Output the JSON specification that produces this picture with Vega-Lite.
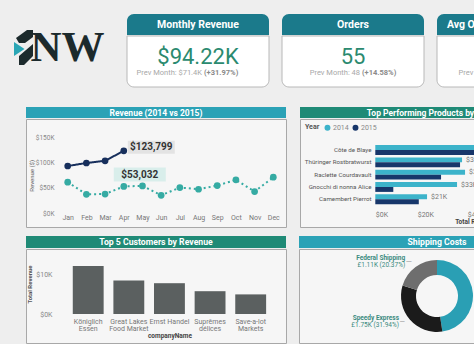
{
  "$schema": "https://vega.github.io/schema/vega-lite/v6.json",
  "usermeta": {"embedOptions": {"actions": false}},
  "background": "#eeeeee",
  "padding": {"left": 0, "top": 14, "right": 0, "bottom": 0},
  "config": {"font": "Roboto", "view": {"stroke": null}},
  "datasets": {
    "cards": [
      {"card": "Monthly Revenue", "value": "$94.22K", "prev": "Prev Month: $71.4K", "change": "(+31.97%)"},
      {"card": "Orders", "value": "55", "prev": "Prev Month: 48", "change": "(+14.58%)"},
      {"card": "Avg Order Value", "value": "$1.71K", "prev": "Prev Month: $1.49K", "change": "(+15.03%)"}
    ],
    "revenue": [
      {"month": "Jan", "year": "2014", "revenue": 61400},
      {"month": "Feb", "year": "2014", "revenue": 37300},
      {"month": "Mar", "year": "2014", "revenue": 37800},
      {"month": "Apr", "year": "2014", "revenue": 53032},
      {"month": "May", "year": "2014", "revenue": 54000},
      {"month": "Jun", "year": "2014", "revenue": 35300},
      {"month": "Jul", "year": "2014", "revenue": 50700},
      {"month": "Aug", "year": "2014", "revenue": 47300},
      {"month": "Sep", "year": "2014", "revenue": 54700},
      {"month": "Oct", "year": "2014", "revenue": 66000},
      {"month": "Nov", "year": "2014", "revenue": 42700},
      {"month": "Dec", "year": "2014", "revenue": 71300},
      {"month": "Jan", "year": "2015", "revenue": 93600},
      {"month": "Feb", "year": "2015", "revenue": 99600},
      {"month": "Mar", "year": "2015", "revenue": 104000},
      {"month": "Apr", "year": "2015", "revenue": 123799}
    ],
    "products": [
      {"product": "Côte de Blaye", "year": "2014", "revenue": 49000},
      {"product": "Côte de Blaye", "year": "2015", "revenue": 62000},
      {"product": "Thüringer Rostbratwurst", "year": "2014", "revenue": 34700},
      {"product": "Thüringer Rostbratwurst", "year": "2015", "revenue": 33900},
      {"product": "Raclette Courdavault", "year": "2014", "revenue": 35900},
      {"product": "Raclette Courdavault", "year": "2015", "revenue": 26300},
      {"product": "Gnocchi di nonna Alice", "year": "2014", "revenue": 32700},
      {"product": "Gnocchi di nonna Alice", "year": "2015", "revenue": 7200},
      {"product": "Camembert Pierrot", "year": "2014", "revenue": 20700},
      {"product": "Camembert Pierrot", "year": "2015", "revenue": 17400}
    ],
    "customers": [
      {"company": "Königlich Essen", "revenue": 12000},
      {"company": "Great Lakes Food Market", "revenue": 8400},
      {"company": "Ernst Handel", "revenue": 7700},
      {"company": "Suprêmes délices", "revenue": 5700},
      {"company": "Save-a-lot Markets", "revenue": 4900}
    ],
    "shipping": [
      {"method": "United Package", "ord": 1, "value": 2600, "pct": 47.69},
      {"method": "Speedy Express", "ord": 2, "value": 1750, "pct": 31.94},
      {"method": "Federal Shipping", "ord": 3, "value": 1110, "pct": 20.37}
    ]
  },
  "spacing": 19,
  "resolve": {"scale": {"color": "independent", "fill": "independent", "shape": "independent", "strokeDash": "independent"}, "legend": {"color": "independent", "fill": "independent", "shape": "independent", "strokeDash": "independent"}},
  "vconcat": [
    {
      "spacing": 11,
      "hconcat": [
        {
          "width": 115, "height": 72,
          "data": {"values": [{"name": "NW"}]},
          "layer": [
            {"mark": {"type": "point", "shape": "M-41.5,-12L-30.5,-20L-24.5,-20L-24.5,-13L-32.5,-7L-38.5,-7Z M-31.5,0L-24.5,-6L-24.5,6L-33.5,15L-38.5,15L-38.5,6Z", "size": 4, "filled": true, "color": "#1c2a2c", "opacity": 1, "strokeWidth": 0}, "encoding": {}},
            {"mark": {"type": "point", "shape": "M-43.5,-8L-33,-1L-43.5,6Z", "size": 4, "filled": true, "color": "#2aa6b5", "opacity": 1, "strokeWidth": 0}, "encoding": {}},
            {"mark": {"type": "text", "font": "Liberation Serif", "fontWeight": "bold", "fontSize": 43, "color": "#1c2a2c", "dx": 10, "dy": -2}, "encoding": {"text": {"field": "name"}}}
          ]
        },
        {
          "spacing": 0,
          "data": {"name": "cards"},
          "transform": [{"filter": "datum.card == 'Monthly Revenue'"}],
          "vconcat": [
            {"width": 142, "height": 21, "layer": [
              {"mark": {"type": "rect", "fill": "#1b7a8b", "cornerRadiusTopLeft": 7, "cornerRadiusTopRight": 7}, "encoding": {}},
              {"mark": {"type": "text", "color": "white", "fontWeight": "bold", "fontSize": 10.5}, "encoding": {"text": {"field": "card"}}}
            ]},
            {"width": 142, "height": 51, "layer": [
              {"mark": {"type": "rect", "fill": "white", "stroke": "#b8b8b8", "cornerRadiusBottomLeft": 7, "cornerRadiusBottomRight": 7}, "encoding": {}},
              {"mark": {"type": "text", "color": "#2b8a6f", "fontSize": 22, "dy": -4.5}, "encoding": {"text": {"field": "value"}}},
              {"mark": {"type": "text", "color": "#a8a8a8", "fontSize": 7.5, "align": "right", "dx": 4, "dy": 11.5}, "encoding": {"text": {"field": "prev"}}},
              {"mark": {"type": "text", "color": "#8a8a8a", "fontSize": 7.5, "fontWeight": "bold", "align": "left", "dx": 6, "dy": 11.5}, "encoding": {"text": {"field": "change"}}}
            ]}
          ]
        },
        {
          "spacing": 0,
          "data": {"name": "cards"},
          "transform": [{"filter": "datum.card == 'Orders'"}],
          "vconcat": [
            {"width": 142, "height": 21, "layer": [
              {"mark": {"type": "rect", "fill": "#1b7a8b", "cornerRadiusTopLeft": 7, "cornerRadiusTopRight": 7}, "encoding": {}},
              {"mark": {"type": "text", "color": "white", "fontWeight": "bold", "fontSize": 10.5}, "encoding": {"text": {"field": "card"}}}
            ]},
            {"width": 142, "height": 51, "layer": [
              {"mark": {"type": "rect", "fill": "white", "stroke": "#b8b8b8", "cornerRadiusBottomLeft": 7, "cornerRadiusBottomRight": 7}, "encoding": {}},
              {"mark": {"type": "text", "color": "#2b8a6f", "fontSize": 22, "dy": -4.5}, "encoding": {"text": {"field": "value"}}},
              {"mark": {"type": "text", "color": "#a8a8a8", "fontSize": 7.5, "align": "right", "dx": 7, "dy": 11.5}, "encoding": {"text": {"field": "prev"}}},
              {"mark": {"type": "text", "color": "#8a8a8a", "fontSize": 7.5, "fontWeight": "bold", "align": "left", "dx": 9, "dy": 11.5}, "encoding": {"text": {"field": "change"}}}
            ]}
          ]
        },
        {
          "spacing": 0,
          "data": {"name": "cards"},
          "transform": [{"filter": "datum.card == 'Avg Order Value'"}],
          "vconcat": [
            {"width": 142, "height": 21, "layer": [
              {"mark": {"type": "rect", "fill": "#1b7a8b", "cornerRadiusTopLeft": 7, "cornerRadiusTopRight": 7}, "encoding": {}},
              {"mark": {"type": "text", "color": "white", "fontWeight": "bold", "fontSize": 10.5, "dx": -23}, "encoding": {"text": {"field": "card"}}}
            ]},
            {"width": 142, "height": 51, "layer": [
              {"mark": {"type": "rect", "fill": "white", "stroke": "#b8b8b8", "cornerRadiusBottomLeft": 7, "cornerRadiusBottomRight": 7}, "encoding": {}},
              {"mark": {"type": "text", "color": "#2b8a6f", "fontSize": 22, "dy": -4.5, "dx": 14}, "encoding": {"text": {"field": "value"}}},
              {"mark": {"type": "text", "color": "#a8a8a8", "fontSize": 7.5, "align": "right", "dx": 16, "dy": 11.5}, "encoding": {"text": {"field": "prev"}}},
              {"mark": {"type": "text", "color": "#8a8a8a", "fontSize": 7.5, "fontWeight": "bold", "align": "left", "dx": 18, "dy": 11.5}, "encoding": {"text": {"field": "change"}}}
            ]}
          ]
        }
      ]
    },
    {
      "spacing": 8,
      "resolve": {"scale": {"color": "independent", "fill": "independent", "shape": "independent", "strokeDash": "independent"}, "legend": {"color": "independent", "fill": "independent", "shape": "independent", "strokeDash": "independent"}},
      "vconcat": [
        {
          "spacing": 12,
          "resolve": {"scale": {"color": "independent", "fill": "independent", "shape": "independent", "strokeDash": "independent"}, "legend": {"color": "independent", "fill": "independent", "shape": "independent", "strokeDash": "independent"}},
          "hconcat": [
            {"width": 13, "height": 10, "data": {"values": []}, "mark": "text", "encoding": {}},
            {
              "spacing": 0,
              "resolve": {"scale": {"color": "independent", "fill": "independent", "shape": "independent", "strokeDash": "independent"}, "legend": {"color": "independent", "fill": "independent", "shape": "independent", "strokeDash": "independent"}},
              "vconcat": [
                {"width": 260, "height": 11, "data": {"values": [{"t": "Revenue (2014 vs 2015)"}]}, "layer": [
                  {"mark": {"type": "rect", "fill": "#2ba2b6"}, "encoding": {}},
                  {"mark": {"type": "text", "color": "white", "fontWeight": "bold", "fontSize": 8.5}, "encoding": {"text": {"field": "t"}}}
                ]},
                {
                  "width": 260, "height": 108,
                  "view": {"fill": "#f6f6f6", "stroke": "#a8a8a8"},
                  "data": {"name": "revenue"},
                  "encoding": {
                    "x": {"field": "month", "type": "ordinal", "sort": ["Jan","Feb","Mar","Apr","May","Jun","Jul","Aug","Sep","Oct","Nov","Dec"],
                      "scale": {"type": "point", "range": [41.7, 247.3], "padding": 0},
                      "axis": {"title": null, "offset": -16, "labelPadding": 2, "tickSize": 0, "ticks": false, "domain": false, "grid": false, "labelFontSize": 7, "labelColor": "#777", "labelAngle": 0}},
                    "y": {"field": "revenue", "type": "quantitative",
                      "scale": {"domain": [0, 150000], "range": [94, 18.7], "nice": false},
                      "axis": {"title": "Revenue ($)", "values": [0, 50000, 100000, 150000], "labelExpr": "'$' + (datum.value/1000) + 'K'", "offset": -31, "labelPadding": 3, "ticks": false, "tickSize": 0, "domain": false, "grid": false, "labelFontSize": 6.5, "labelColor": "#888", "titleFontSize": 6, "titleFontWeight": "normal", "titleColor": "#666", "titlePadding": 1}}
                  },
                  "layer": [
                    {"mark": {"type": "line", "strokeWidth": 2},
                     "encoding": {
                       "color": {"field": "year", "type": "nominal", "scale": {"domain": ["2014", "2015"], "range": ["#35aba3", "#172f5c"]}, "legend": null},
                       "strokeDash": {"field": "year", "type": "nominal", "scale": {"domain": ["2014", "2015"], "range": [[2, 3], [1, 0]]}, "legend": null}
                     }},
                    {"mark": {"type": "point", "filled": true, "size": 45, "opacity": 1},
                     "encoding": {
                       "color": {"field": "year", "type": "nominal", "scale": {"domain": ["2014", "2015"], "range": ["#35aba3", "#172f5c"]},
                         "legend": {"orient": "top-right", "direction": "horizontal", "title": "Year", "titleOrient": "left", "titleFontSize": 7, "titleFontWeight": "bold", "titleColor": "#555", "labelFontSize": 7, "labelColor": "#888", "symbolType": "circle", "symbolSize": 35, "symbolStrokeWidth": 0, "offset": 4, "padding": 0, "columnPadding": 3, "labelOffset": 2, "titlePadding": 4}}
                     }},
                    {"transform": [{"filter": "datum.month == 'Apr'"}],
                     "mark": {"type": "point", "size": 4, "filled": true, "opacity": 1, "strokeWidth": 0},
                     "encoding": {
                       "shape": {"field": "year", "type": "nominal", "scale": {"domain": ["2014", "2015"], "range": ["M-10,-19H42V-5H-10Z", "M4,-10H51V3H4Z"]}, "legend": null},
                       "fill": {"field": "year", "type": "nominal", "scale": {"domain": ["2014", "2015"], "range": ["#d9eeeb", "#e3e3e3"]}, "legend": null}
                     }},
                    {"transform": [{"filter": "datum.month == 'Apr' && datum.year == '2015'"}],
                     "mark": {"type": "text", "fontWeight": "bold", "fontSize": 10, "color": "#333", "dx": 27.5, "dy": -3.5},
                     "encoding": {"text": {"field": "revenue", "type": "quantitative", "format": "$,.0f"}}},
                    {"transform": [{"filter": "datum.month == 'Apr' && datum.year == '2014'"}],
                     "mark": {"type": "text", "fontWeight": "bold", "fontSize": 10, "color": "#333", "dx": 16, "dy": -11.7},
                     "encoding": {"text": {"field": "revenue", "type": "quantitative", "format": "$,.0f"}}}
                  ]
                }
              ]
            },
            {
              "spacing": 0,
              "resolve": {"scale": {"color": "independent", "fill": "independent", "shape": "independent", "strokeDash": "independent"}, "legend": {"color": "independent", "fill": "independent", "shape": "independent", "strokeDash": "independent"}},
              "vconcat": [
                {"width": 276, "height": 11, "data": {"values": [{"t": "Top Performing Products by Revenue"}]}, "layer": [
                  {"mark": {"type": "rect", "fill": "#1f8a76"}, "encoding": {}},
                  {"mark": {"type": "text", "color": "white", "fontWeight": "bold", "fontSize": 8.5}, "encoding": {"text": {"field": "t"}}}
                ]},
                {
                  "width": 276, "height": 108,
                  "view": {"fill": "#f6f6f6", "stroke": "#a8a8a8"},
                  "data": {"name": "products"},
                  "encoding": {
                    "y": {"field": "product", "type": "nominal", "sort": ["Côte de Blaye", "Thüringer Rostbratwurst", "Raclette Courdavault", "Gnocchi di nonna Alice", "Camembert Pierrot"],
                      "scale": {"range": [24.85, 86.45], "paddingInner": 0.2, "paddingOuter": 0.1},
                      "axis": {"title": null, "offset": -74, "labelPadding": 3, "ticks": false, "tickSize": 0, "domain": false, "grid": false, "labelFontSize": 6.2, "labelColor": "#555", "labelLimit": 0}},
                    "yOffset": {"field": "year", "type": "nominal", "sort": ["2014", "2015"], "scale": {"paddingInner": 0}},
                    "x": {"field": "revenue", "type": "quantitative",
                      "scale": {"domain": [0, 80000], "range": [75.3, 275.3], "nice": false},
                      "axis": {"title": "Total Revenue", "values": [0, 20000, 40000, 60000, 80000], "labelExpr": "'$' + (datum.value/1000) + 'K'", "offset": -18, "labelPadding": 1.5, "ticks": false, "tickSize": 0, "domain": false, "grid": false, "labelFontSize": 7, "labelColor": "#777", "titleFontSize": 6.5, "titleFontWeight": "bold", "titleColor": "#444", "titlePadding": 1}}
                  },
                  "layer": [
                    {"mark": {"type": "bar"},
                     "encoding": {
                       "color": {"field": "year", "type": "nominal", "scale": {"domain": ["2014", "2015"], "range": ["#3cb3ca", "#17366a"]},
                         "legend": {"orient": "top-left", "direction": "horizontal", "title": "Year", "titleOrient": "left", "titleFontSize": 7, "titleFontWeight": "bold", "titleColor": "#555", "labelFontSize": 7, "labelColor": "#888", "symbolType": "circle", "symbolSize": 35, "symbolStrokeWidth": 0, "offset": 5, "padding": 0, "columnPadding": 3, "labelOffset": 2, "titlePadding": 4}}
                     }},
                    {"transform": [{"filter": "datum.year == '2014'"}],
                     "mark": {"type": "text", "align": "left", "dx": 4, "fontSize": 7, "color": "#777", "text": {"expr": "'$' + round(datum.revenue/1000) + 'K'"}},
                     "encoding": {}}
                  ]
                }
              ]
            }
          ]
        },
        {
          "spacing": 11,
          "resolve": {"scale": {"color": "independent", "fill": "independent", "shape": "independent", "strokeDash": "independent"}, "legend": {"color": "independent", "fill": "independent", "shape": "independent", "strokeDash": "independent"}},
          "hconcat": [
            {"width": 14, "height": 10, "data": {"values": []}, "mark": "text", "encoding": {}},
            {
              "spacing": 0,
              "vconcat": [
                {"width": 260, "height": 12, "data": {"values": [{"t": "Top 5 Customers by Revenue"}]}, "layer": [
                  {"mark": {"type": "rect", "fill": "#1f8a76"}, "encoding": {}},
                  {"mark": {"type": "text", "color": "white", "fontWeight": "bold", "fontSize": 8.7}, "encoding": {"text": {"field": "t"}}}
                ]},
                {
                  "width": 260, "height": 94,
                  "view": {"fill": "#f6f6f6", "stroke": "#a8a8a8"},
                  "data": {"name": "customers"},
                  "mark": {"type": "bar", "color": "#5b6060"},
                  "encoding": {
                    "x": {"field": "company", "type": "nominal", "sort": ["Königlich Essen", "Great Lakes Food Market", "Ernst Handel", "Suprêmes délices", "Save-a-lot Markets"],
                      "scale": {"range": [41.9, 245], "paddingInner": 0.24, "paddingOuter": 0.12},
                      "axis": {"title": "companyName", "labelAngle": 0, "labelExpr": "datum.value == 'Königlich Essen' ? ['Königlich', 'Essen'] : datum.value == 'Great Lakes Food Market' ? ['Great Lakes', 'Food Market'] : datum.value == 'Suprêmes délices' ? ['Suprêmes', 'délices'] : datum.value == 'Save-a-lot Markets' ? ['Save-a-lot', 'Markets'] : datum.value", "offset": -31, "labelPadding": 5, "ticks": false, "tickSize": 0, "domain": false, "grid": false, "labelFontSize": 7, "labelColor": "#777", "labelLineHeight": 7, "titleFontSize": 6.5, "titleFontWeight": "bold", "titleColor": "#444", "titlePadding": 1}},
                    "y": {"field": "revenue", "type": "quantitative",
                      "scale": {"domain": [0, 15000], "range": [65, 5], "nice": false},
                      "axis": {"title": "Total Revenue", "values": [0, 10000], "labelExpr": "'$' + (datum.value/1000) + 'K'", "offset": -29, "labelPadding": 3, "ticks": false, "tickSize": 0, "domain": false, "grid": false, "labelFontSize": 7, "labelColor": "#888", "titleFontSize": 6, "titleFontWeight": "bold", "titleColor": "#555", "titlePadding": 3}}
                  }
                }
              ]
            },
            {
              "spacing": 0,
              "vconcat": [
                {"width": 276, "height": 12, "data": {"values": [{"t": "Shipping Costs"}]}, "layer": [
                  {"mark": {"type": "rect", "fill": "#2ba2b6"}, "encoding": {}},
                  {"mark": {"type": "text", "color": "white", "fontWeight": "bold", "fontSize": 8.7}, "encoding": {"text": {"field": "t"}}}
                ]},
                {
                  "width": 276, "height": 94,
                  "view": {"fill": "#f6f6f6", "stroke": "#a8a8a8"},
                  "data": {"name": "shipping"},
                  "encoding": {
                    "theta": {"field": "value", "type": "quantitative", "stack": true},
                    "order": {"field": "ord", "type": "quantitative"}
                  },
                  "layer": [
                    {"mark": {"type": "arc", "innerRadius": 21, "outerRadius": 36},
                     "encoding": {"color": {"field": "method", "type": "nominal", "scale": {"domain": ["United Package", "Speedy Express", "Federal Shipping"], "range": ["#2a9fb4", "#1b1b1b", "#6e6e6e"]}, "legend": null}}},
                    {"mark": {"type": "text", "align": "left", "dx": -6, "dy": 0.5, "fontSize": 8, "color": "#9a9a9a", "text": "—"},
                     "encoding": {"radius": {"value": 42.5}, "opacity": {"condition": {"test": "datum.method == 'Federal Shipping'", "value": 1}, "value": 0}}},
                    {"mark": {"type": "text", "align": "left", "dx": -8, "dy": 0, "fontSize": 7, "color": "#9a9a9a", "text": "—"},
                     "encoding": {"radius": {"value": 39}, "opacity": {"condition": {"test": "datum.method == 'Speedy Express'", "value": 1}, "value": 0}}},
                    {"mark": {"type": "text", "align": "right", "dx": -6.5, "dy": -3.5, "fontSize": 6.5, "fontWeight": "bold", "color": "#3b8b80"},
                     "encoding": {"radius": {"value": 42.5}, "text": {"field": "method"}, "opacity": {"condition": {"test": "datum.method == 'Federal Shipping'", "value": 1}, "value": 0}}},
                    {"mark": {"type": "text", "align": "right", "dx": -6.5, "dy": 3.5, "fontSize": 6.5, "color": "#3b8b80", "text": {"expr": "'£' + format(datum.value/1000, '.2f') + 'K (' + format(datum.pct, '.2f') + '%)'"}},
                     "encoding": {"radius": {"value": 42.5}, "opacity": {"condition": {"test": "datum.method == 'Federal Shipping'", "value": 1}, "value": 0}}},
                    {"mark": {"type": "text", "align": "right", "dx": -8.5, "dy": -3.5, "fontSize": 6.5, "fontWeight": "bold", "color": "#3b8b80"},
                     "encoding": {"radius": {"value": 39}, "text": {"field": "method"}, "opacity": {"condition": {"test": "datum.method == 'Speedy Express'", "value": 1}, "value": 0}}},
                    {"mark": {"type": "text", "align": "right", "dx": -8.5, "dy": 3.5, "fontSize": 6.5, "color": "#3b8b80", "text": {"expr": "'£' + format(datum.value/1000, '.2f') + 'K (' + format(datum.pct, '.2f') + '%)'"}},
                     "encoding": {"radius": {"value": 39}, "opacity": {"condition": {"test": "datum.method == 'Speedy Express'", "value": 1}, "value": 0}}},
                    {"mark": {"type": "text", "align": "left", "dx": 6, "dy": -3.5, "fontSize": 6.5, "fontWeight": "bold", "color": "#3b8b80"},
                     "encoding": {"radius": {"value": 44}, "text": {"field": "method"}, "opacity": {"condition": {"test": "datum.method == 'United Package'", "value": 1}, "value": 0}}},
                    {"mark": {"type": "text", "align": "left", "dx": 6, "dy": 3.5, "fontSize": 6.5, "color": "#3b8b80", "text": {"expr": "'£' + format(datum.value/1000, '.2f') + 'K (' + format(datum.pct, '.2f') + '%)'"}},
                     "encoding": {"radius": {"value": 44}, "opacity": {"condition": {"test": "datum.method == 'United Package'", "value": 1}, "value": 0}}}
                  ]
                }
              ]
            }
          ]
        }
      ]
    }
  ]
}
